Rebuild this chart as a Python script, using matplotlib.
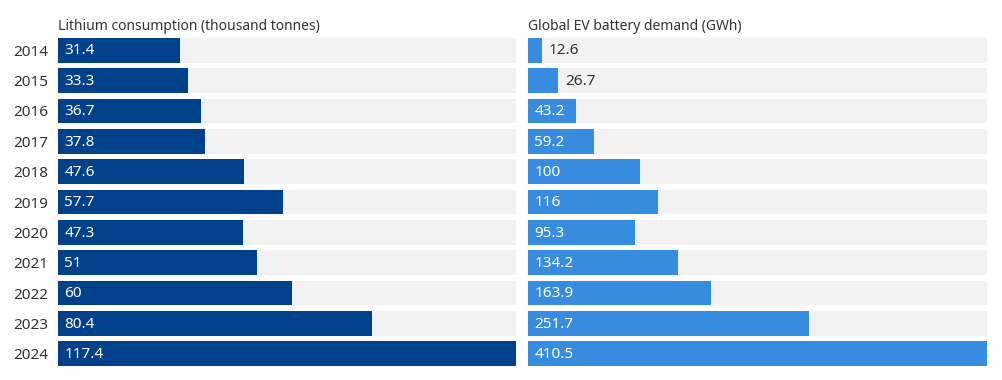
import matplotlib.pyplot as plt
import numpy as np

plt.rcParams["font.family"] = ["Noto Sans", "DejaVu Sans"]

years = ["2014", "2015", "2016", "2017", "2018", "2019", "2020", "2021", "2022", "2023", "2024"]
lithium = [31.4, 33.3, 36.7, 37.8, 47.6, 57.7, 47.3, 51, 60, 80.4, 117.4]
ev_demand = [12.6, 26.7, 43.2, 59.2, 100, 116, 95.3, 134.2, 163.9, 251.7, 410.5]
lithium_labels = ["31.4", "33.3", "36.7", "37.8", "47.6", "57.7", "47.3", "51", "60", "80.4", "117.4"]
ev_labels = ["12.6", "26.7", "43.2", "59.2", "100", "116", "95.3", "134.2", "163.9", "251.7", "410.5"]

titles = ["Lithium consumption (thousand tonnes)", "Global EV battery demand (GWh)"]
colors = ["#01408a", "#378ce0"]
BG = "#f2f2f2"
TEXT = "#333333"
H = 0.81


def draw_panel(ax, values, labels, color, title, show_years):
    y = np.arange(len(values))
    vmax = max(values)
    ax.barh(y, [vmax] * len(values), height=H, color=BG, linewidth=0)
    ax.barh(y, values, height=H, color=color, linewidth=0)
    for yi, v, lab in zip(y, values, labels):
        if v / vmax < 0.08:
            ax.annotate(lab, (v, yi), xytext=(5, -0.5), textcoords="offset points",
                        va="center", ha="left", color=TEXT, fontsize=11)
        else:
            ax.annotate(lab, (0, yi), xytext=(4.5, -0.5), textcoords="offset points",
                        va="center", ha="left", color="white", fontsize=11)
    ax.set_xlim(0, vmax)
    ax.set_ylim(len(values) - 1 + H / 2, -H / 2)
    ax.set_xticks([])
    if show_years:
        ax.set_yticks(y, years)
        ax.tick_params(axis="y", length=0, pad=7, labelsize=11, labelcolor=TEXT)
    else:
        ax.set_yticks([])
    for s in ax.spines.values():
        s.set_visible(False)
    ax.text(0, 1.012, title, transform=ax.transAxes, ha="left", va="bottom",
            fontsize=10, color=TEXT)


fig = plt.figure(figsize=(10.03, 3.8), dpi=100)
ax1 = fig.add_axes([58 / 1003, 1 - 366 / 380, 458 / 1003, 328 / 380])
ax2 = fig.add_axes([528 / 1003, 1 - 366 / 380, 459 / 1003, 328 / 380])

draw_panel(ax1, lithium, lithium_labels, colors[0], titles[0], True)
draw_panel(ax2, ev_demand, ev_labels, colors[1], titles[1], False)

fig.savefig("out.png", dpi=100)
